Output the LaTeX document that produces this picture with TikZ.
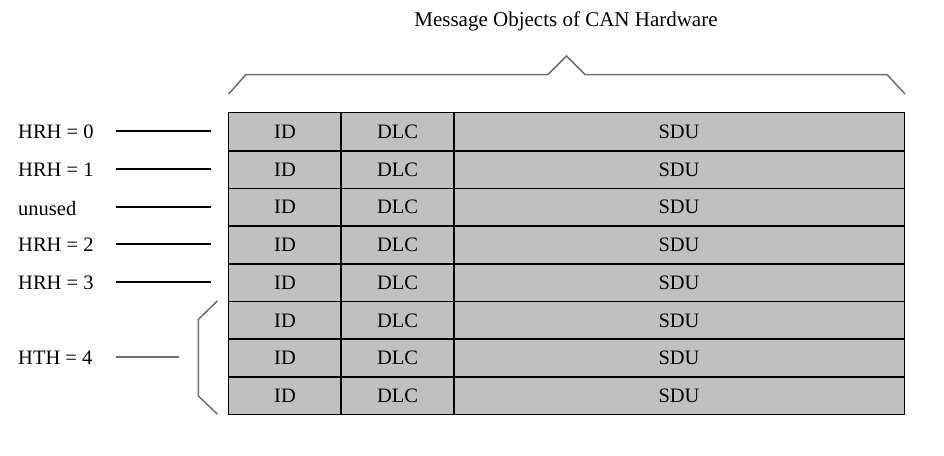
\documentclass[tikz,border=0pt]{standalone}
\usepackage{fontspec}
\setmainfont{Liberation Serif}
\definecolor{cellgray}{RGB}{192,192,192}
\definecolor{bracegray}{RGB}{110,110,110}
\tikzset{
  txt/.style={inner sep=0pt, font=\fontsize{20.5}{21}\selectfont},
  cell/.style={txt, fill=cellgray, minimum height=37.7pt},
  hline/.style={line width=1.3pt},
}

\begin{document}
\begin{tikzpicture}[x=1pt,y=-1pt]
        \useasboundingbox (0,0) rectangle (944,455);
        \node[txt, font=\fontsize{21}{22}\selectfont] (title) at (566,21) {Message Objects of CAN Hardware};
        \draw[bracegray, line width=1.5pt] (228.6,94) -- (246,74.5) -- (548,74.5) -- (566.5,56) -- (585,74.5) -- (887,74.5) -- (905,94);
        \foreach \r in {1,...,8} {
            \node[cell, minimum width=112pt] (id\r) at (285,{113+37.7*(\r-0.5)}) {ID};
            \node[cell, minimum width=113pt] (dlc\r) at (397.5,{113+37.7*(\r-0.5)}) {DLC};
            \node[cell, minimum width=450pt] (sdu\r) at (679,{113+37.7*(\r-0.5)}) {SDU};
        }
        % cell borders on top of the fills
        \foreach \r in {1,...,8} {
            \foreach \c in {id,dlc,sdu}
                \draw[hline] (\c\r.north west) rectangle (\c\r.south east);
        }
        \node[txt, right] (hrh0) at (18,132) {HRH = 0};
        \node[txt, right] (hrh1) at (18,170) {HRH = 1};
        \node[txt, right] (unused) at (18,208) {unused};
        \node[txt, right] (hrh2) at (18,245) {HRH = 2};
        \node[txt, right] (hrh3) at (18,283) {HRH = 3};
        \node[txt, right] (hth4) at (18,358) {HTH = 4};
        \foreach \n/\y in {a/131,b/169,c/207,d/244,e/282} {
            \coordinate (\n0) at (116,\y);
            \coordinate (\n1) at (211,\y);
            \draw[hline] (\n0) -- (\n1);
        }
        \coordinate (f0) at (116,357);
        \coordinate (f1) at (179,357);
        \draw[hline, bracegray] (f0) -- (f1);
        \draw[bracegray, line width=1.5pt] (217.3,301) -- (198.3,319.5) -- (198.3,396) -- (217.3,414);
    \end{tikzpicture}
\end{document}
